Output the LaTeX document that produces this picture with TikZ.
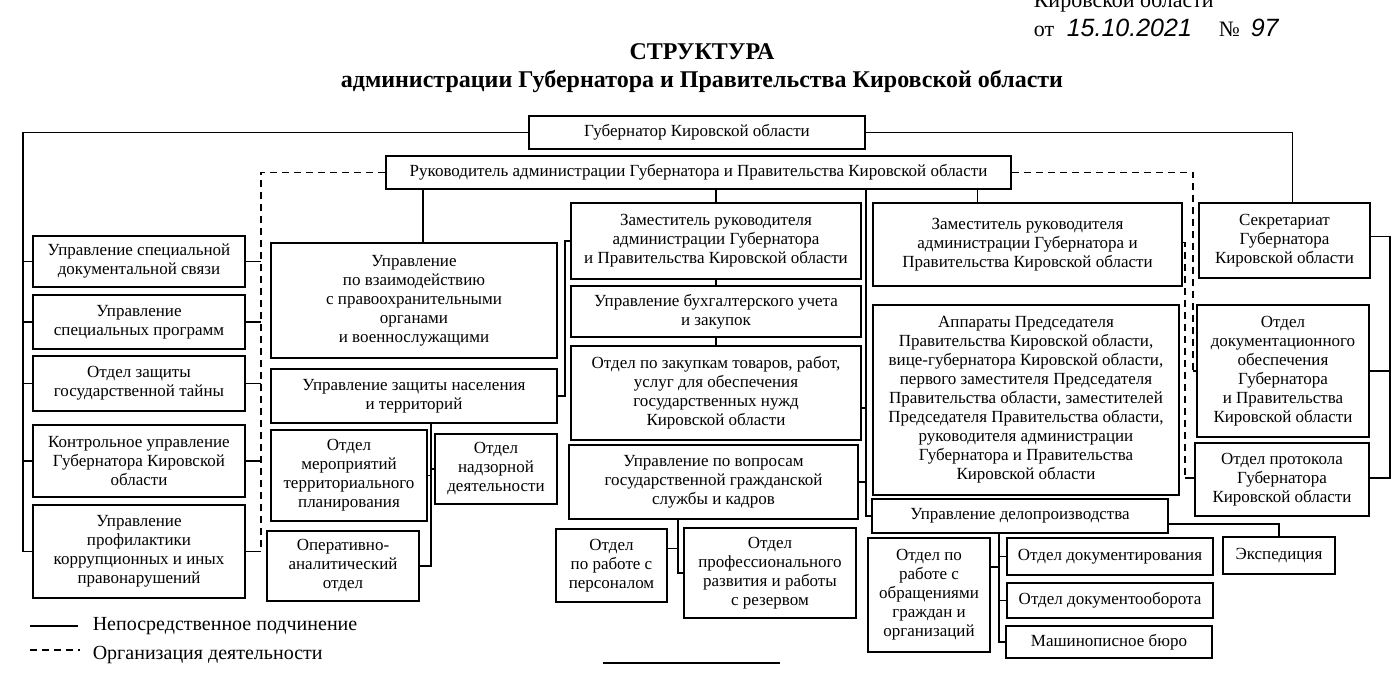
\documentclass[tikz,border=0pt]{standalone}
\usepackage{fontspec}
\setmainfont{Liberation Serif}
\newfontfamily\handfont{Liberation Sans}
\usetikzlibrary{positioning}

\begin{document}
\begin{tikzpicture}[x=1pt,y=-1pt,line width=1.6pt,
  box/.style={draw,align=center,inner sep=1pt,font=\fontsize{17}{19}\selectfont},
  sz/.style 2 args={minimum width=#1pt,minimum height=#2pt},
  org/.style={dash pattern=on 7pt off 5pt},
  txt/.style={inner sep=0pt,font=\fontsize{20}{22}\selectfont}]
\useasboundingbox[fill=white] (0,0) rectangle (1398,687);

% heading
\node[anchor=base west,txt,font=\fontsize{22}{24}\selectfont] (kir) at (1033,8) {Кировской области};
\node[anchor=base west,txt,font=\fontsize{22}{24}\selectfont] (ot) at (1033,37) {от};
\node[anchor=base west,txt,font=\handfont\itshape\fontsize{25}{27}\selectfont] (date) at (1066,37) {15.10.2021};
\node[anchor=base west,txt,font=\fontsize{22}{24}\selectfont] (no) at (1218,37) {№};
\node[anchor=base west,txt,font=\handfont\itshape\fontsize{25}{27}\selectfont] (nr) at (1250,37) {97};
\node[font=\bfseries\fontsize{24}{26}\selectfont] (title) at (702,52) {СТРУКТУРА};
\node[font=\bfseries\fontsize{24}{26}\selectfont] (subtitle) at (702,82) {администрации Губернатора и Правительства Кировской области};

% top
\node[box,sz={336}{33}] (gov) at (697,132.5) {Губернатор Кировской области};
\node[box,sz={625}{33}] (head) at (698.5,172.5) {Руководитель администрации Губернатора и Правительства Кировской области};

% left column
\node[box,sz={212}{51}] (L1) at (139,261.5) {Управление специальной\\документальной связи};
\node[box,sz={212}{54}] (L2) at (139,322) {Управление\\специальных программ};
\node[box,sz={212}{55}] (L3) at (139,383.5) {Отдел защиты\\государственной тайны};
\node[box,sz={212}{72}] (L4) at (139,461) {Контрольное управление\\Губернатора Кировской\\области};
\node[box,sz={212}{93}] (L5) at (139,551.5) {Управление\\профилактики\\коррупционных и иных\\правонарушений};

% second column
\node[box,sz={286}{115}] (M1) at (414,300.5) {Управление\\по взаимодействию\\с правоохранительными\\органами\\и военнослужащими};
\node[box,sz={286}{54}] (M2) at (414,396) {Управление защиты населения\\и территорий};
\node[box,sz={156}{91}] (M3) at (349,475.5) {Отдел\\мероприятий\\территориального\\планирования};
\node[box,sz={122}{70}] (M4) at (496,469) {Отдел\\надзорной\\деятельности};
\node[box,sz={152}{70}] (M5) at (343,566) {Оперативно-\\аналитический\\отдел};

% first deputy
\node[box,sz={290}{76}] (D1) at (716,241) {Заместитель руководителя\\администрации Губернатора\\и Правительства Кировской области};
\node[box,sz={290}{51}] (D1a) at (716,311.5) {Управление бухгалтерского учета\\и закупок};
\node[box,sz={290}{94}] (D1b) at (716,393) {Отдел по закупкам товаров, работ,\\услуг для обеспечения\\государственных нужд\\Кировской области};
\node[box,sz={289}{74}] (D1c) at (713.5,482) {Управление по вопросам\\государственной гражданской\\службы и кадров};
\node[box,sz={111}{73}] (D1c1) at (611.5,565.5) {Отдел\\по работе с\\персоналом};
\node[box,sz={172}{90}] (D1c2) at (770,573) {Отдел\\профессионального\\развития и работы\\с резервом};

% second deputy
\node[box,sz={309}{83}] (D2) at (1027.5,244.5) {Заместитель руководителя\\администрации Губернатора и\\Правительства Кировской области};
\node[box,sz={306}{190}] (D2b) at (1026,400) {Аппараты Председателя\\Правительства Кировской области,\\вице-губернатора Кировской области,\\первого заместителя Председателя\\Правительства области, заместителей\\Председателя Правительства области,\\руководителя администрации\\Губернатора и Правительства\\Кировской области};
\node[box,sz={296}{34}] (D2c) at (1020,516) {Управление делопроизводства};
\node[box,sz={122}{114}] (D2c1) at (929,595) {Отдел по\\работе с\\обращениями\\граждан и\\организаций};
\node[box,sz={206}{37}] (D2c2) at (1110,556.5) {Отдел документирования};
\node[box,sz={206}{35}] (D2c3) at (1110,600.5) {Отдел документооборота};
\node[box,sz={206}{32}] (D2c4) at (1109,642) {Машинописное бюро};
\node[box,sz={112}{37}] (D2c5) at (1279,555.5) {Экспедиция};

% right column
\node[box,sz={171}{75}] (R1) at (1284.5,240.5) {Секретариат\\Губернатора\\Кировской области};
\node[box,sz={172}{132}] (R2) at (1283,371) {Отдел\\документационного\\обеспечения\\Губернатора\\и Правительства\\Кировской области};
\node[box,sz={174}{73}] (R3) at (1282,479.5) {Отдел протокола\\Губернатора\\Кировской области};

% buses
\coordinate (lbus) at (23,551.5);
\coordinate (ldash) at (261,551.5);
\coordinate (dbus) at (565,396);
\coordinate (m2bus) at (431,566);
\coordinate (mbus) at (866,516);
\coordinate (kbus) at (678,573);
\coordinate (pbus) at (999,642);
\coordinate (r2bus) at (1193,371);
\coordinate (r3bus) at (1185,478);
\coordinate (rbus) at (1390,478);

% solid links
\draw (gov.west) -| (lbus) -- (L5.west);
\foreach \n in {L1,L2,L3,L4} \draw (\n.west) -- (\n.west -| lbus);
\draw (gov.east) -| ([xshift=8pt]R1.north);
\draw ([xshift=9pt]M1.north) -- ([xshift=9pt]M1.north |- head.south);
\draw (D1.north) -- (D1.north |- head.south);
\draw ([xshift=-50pt]D2.north) -- ([xshift=-50pt]D2.north |- head.south);
\draw (D1) -- (D1a) -- (D1b);
\draw (D1.west) -| (dbus) -- (M2.east);
\draw (M2.south -| m2bus) -- (m2bus) -- (M5.east);
\draw (M3.east) -- (M3.east -| m2bus);
\draw (M4.west) -- (M4.west -| m2bus);
\draw (mbus |- head.south) -- (mbus) -- (D2c.west);
\draw ([yshift=-15pt]D1b.east) -- ([yshift=-15pt]D1b.east -| mbus);
\draw (D1c.east) -- (D1c.east -| mbus);
\draw (D1c.south -| kbus) -- (kbus) -- (D1c2.west);
\draw ([yshift=17pt]D1c1.east) -- ([yshift=17pt]D1c1.east -| kbus);
\draw (D2c.south -| pbus) -- (pbus) -- (D2c4.west);
\draw ([yshift=28pt]D2c1.east) -- ([yshift=28pt]D2c1.east -| pbus);
\draw (D2c2.west) -- (D2c2.west -| pbus);
\draw (D2c3.west) -- (D2c3.west -| pbus);
\draw ([yshift=-8pt]D2c.east) -| (D2c5.north);
\draw ([yshift=4pt]R1.east) -| (rbus) -- (rbus -| R3.east);
\draw (R2.east) -- (R2.east -| rbus);

% dashed links
\draw[org] (head.west) -| (ldash);
\foreach \n in {L1,L2,L3,L4,L5} \draw (\n.east) -- (\n.east -| ldash);
\draw[org] (head.east) -| (r2bus);
\draw (r2bus) -- (R2.west);
\draw[org] ([yshift=2pt]D2.east) -| (r3bus);
\draw (r3bus) -- (r3bus -| R3.west);

% legend
\draw (30,626) -- (78,626);
\node[txt,anchor=west] (leg1) at (92,626) {Непосредственное подчинение};
\draw[org] (30,650) -- (80,650);
\node[txt,anchor=west] (leg2) at (92,655) {Организация деятельности};
\draw (603,663) -- (780,663);
\end{tikzpicture}
\end{document}
